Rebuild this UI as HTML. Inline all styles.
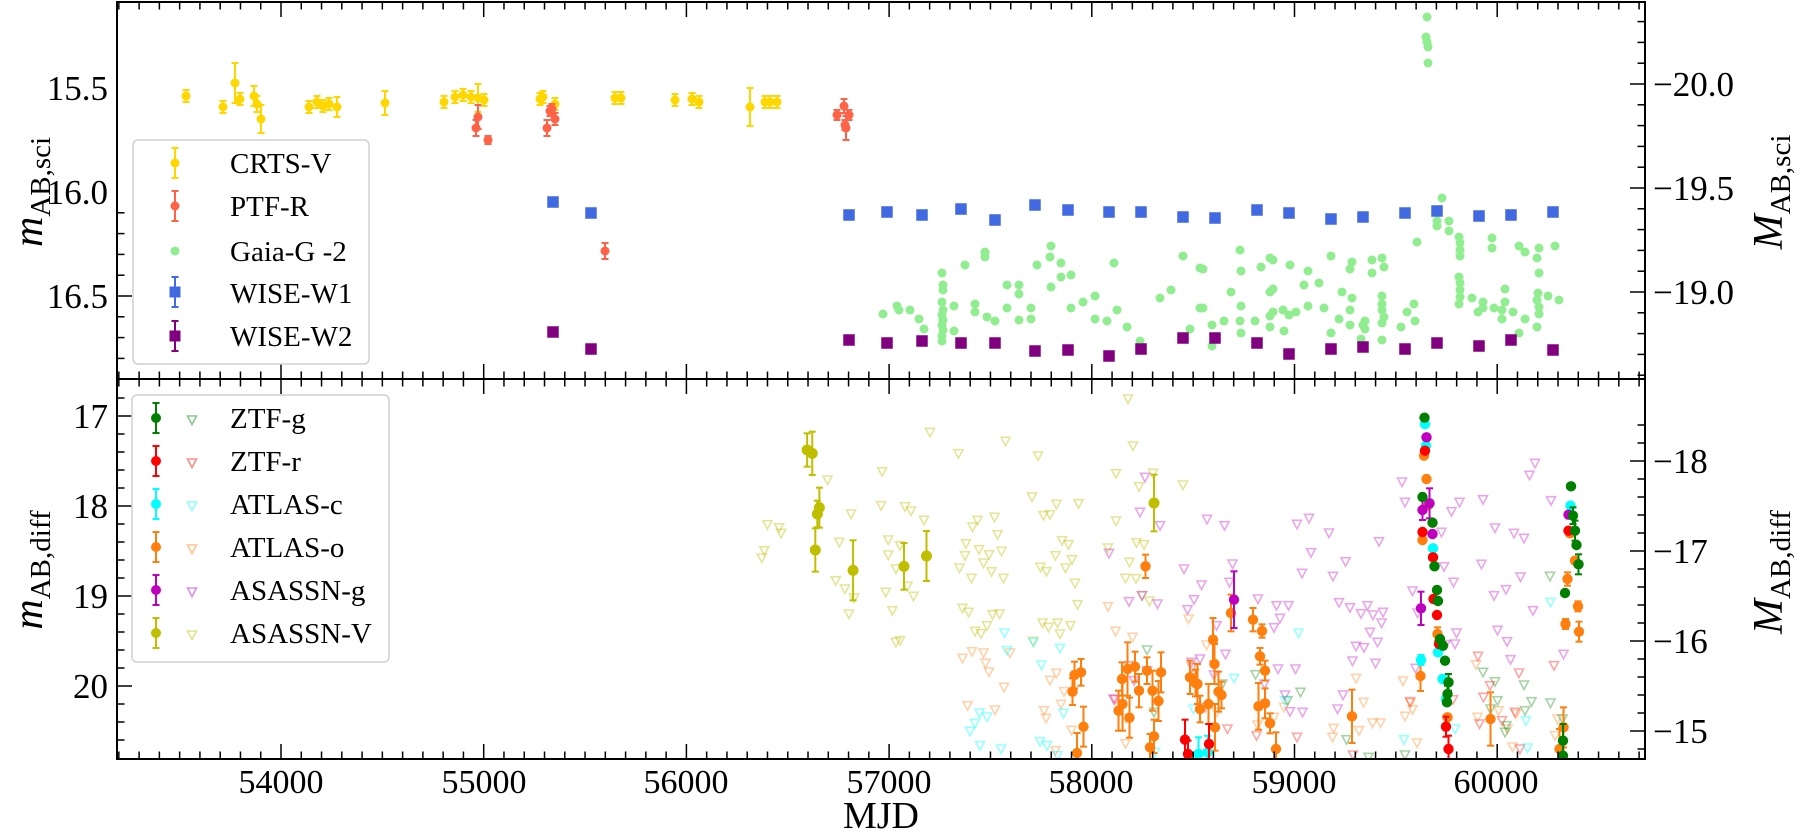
<!DOCTYPE html>
<html><head><meta charset="utf-8">
<style>
html,body{margin:0;padding:0;background:#fff;}
svg{display:block;}
text{font-family:"Liberation Serif",serif;fill:#000;}
</style></head>
<body>
<svg id="s" width="1800" height="833" viewBox="0 0 1800 833" xmlns="http://www.w3.org/2000/svg">
<defs>
<clipPath id="ct"><rect x="117" y="2" width="1528" height="377"/></clipPath>
<clipPath id="cb"><rect x="117" y="379" width="1528" height="380"/></clipPath>
</defs>
<rect width="1800" height="833" fill="#fff"/>
<g id="bd" clip-path="url(#cb)"></g>
<g id="td" clip-path="url(#ct)"></g>
<g id="ax" stroke="#000" fill="none"></g>
<rect x="117" y="2" width="1528" height="377" fill="none" stroke="#000" stroke-width="2"/>
<rect x="117" y="379" width="1528" height="380" fill="none" stroke="#000" stroke-width="2"/>

<!-- legend top -->
<rect x="133" y="140" width="236" height="224" rx="5" fill="#fff" fill-opacity="0.85" stroke="#d0d0d0" stroke-width="1.5"/>
<g id="lg"></g>
<g font-size="29">
<text x="230" y="173">CRTS-V</text>
<text x="230" y="216">PTF-R</text>
<text x="230" y="261">Gaia-G -2</text>
<text x="230" y="303">WISE-W1</text>
<text x="230" y="346">WISE-W2</text>
</g>
<!-- legend bottom -->
<rect x="132" y="395" width="257" height="267" rx="5" fill="#fff" fill-opacity="0.85" stroke="#d0d0d0" stroke-width="1.5"/>
<g id="lg2"></g>
<g font-size="29">
<text x="230" y="428">ZTF-g</text>
<text x="230" y="471">ZTF-r</text>
<text x="230" y="514">ATLAS-c</text>
<text x="230" y="557">ATLAS-o</text>
<text x="230" y="600">ASASSN-g</text>
<text x="230" y="643">ASASSN-V</text>
</g>

<!-- tick labels -->
<g font-size="35" text-anchor="end">
<text x="108" y="100">15.5</text>
<text x="108" y="204">16.0</text>
<text x="108" y="308">16.5</text>
<text x="108" y="428">17</text>
<text x="108" y="518">18</text>
<text x="108" y="608">19</text>
<text x="108" y="698">20</text>
</g>
<g font-size="35" text-anchor="start">
<text x="1653" y="96">−20.0</text>
<text x="1653" y="200">−19.5</text>
<text x="1653" y="304">−19.0</text>
<text x="1653" y="473">−18</text>
<text x="1653" y="563">−17</text>
<text x="1653" y="653">−16</text>
<text x="1653" y="743">−15</text>
</g>
<g font-size="34" text-anchor="middle">
<text x="281" y="793">54000</text>
<text x="484" y="793">55000</text>
<text x="686" y="793">56000</text>
<text x="889" y="793">57000</text>
<text x="1091" y="793">58000</text>
<text x="1294" y="793">59000</text>
<text x="1496" y="793">60000</text>
</g>
<text x="881" y="828" font-size="38" text-anchor="middle">MJD</text>

<text transform="translate(42,192) rotate(-90)" text-anchor="middle" font-size="42"><tspan font-style="italic">m</tspan><tspan font-size="29" dy="8">AB,sci</tspan></text>
<text transform="translate(42,570) rotate(-90)" text-anchor="middle" font-size="42"><tspan font-style="italic">m</tspan><tspan font-size="29" dy="8">AB,diff</tspan></text>
<text transform="translate(1782,192) rotate(-90)" text-anchor="middle" font-size="42"><tspan font-style="italic">M</tspan><tspan font-size="29" dy="8">AB,sci</tspan></text>
<text transform="translate(1782,572) rotate(-90)" text-anchor="middle" font-size="42"><tspan font-style="italic">M</tspan><tspan font-size="29" dy="8">AB,diff</tspan></text>
</svg>
<script>
(function(){
var NS="http://www.w3.org/2000/svg";
function el(p,t,a){var e=document.createElementNS(NS,t);for(var k in a)e.setAttribute(k,a[k]);p.appendChild(e);return e;}
var ax=document.getElementById('ax'),td=document.getElementById('td'),bd=document.getElementById('bd'),lg=document.getElementById('lg'),lg2=document.getElementById('lg2');
function X(m){return 281+(m-54000)*0.2027;}
function line(g,x1,y1,x2,y2,w,c,o){var a={x1:x1,y1:y1,x2:x2,y2:y2,stroke:c||'#000','stroke-width':w||1.5};if(o)a['stroke-opacity']=o;el(g,'line',a);}
for(var m=53200;m<=60700;m+=100){var x=X(m);var maj=(m%1000==0);var L=maj?15:7.5;
 [2,379].forEach(function(y){line(ax,x,y,x,y+L,1.5);});
 [379,759].forEach(function(y){line(ax,x,y,x,y-L,1.5);});}
function Yt(v){return 88+(v-15.5)*208;}
for(var i=11;i<=19;i++){var v=15+i/10;var y=Yt(v);var maj=(i%5==0);line(ax,117,y,117+(maj?15:7.5),y,1.5);}
for(var i=0;i<=20;i++){var M=-20.4+i*0.1;var y=84+(M+20)*208;if(y<4||y>377)continue;var maj=Math.abs(M*2-Math.round(M*2))<1e-6;line(ax,1645,y,1645-(maj?15:7.5),y,1.5);}
function Yb(v){return 416+(v-17)*90;}
for(var v=16.6;v<=20.81;v+=0.2){var y=Yb(v);if(y<381||y>757)continue;var maj=Math.abs(v-Math.round(v))<1e-6;line(ax,117,y,117+(maj?15:7.5),y,1.5);}
for(var v=16.6;v<=20.81;v+=0.2){var y=Yb(v+0.5);if(y<381||y>757)continue;var maj=Math.abs(v-Math.round(v))<1e-6;line(ax,1645,y,1645-(maj?15:7.5),y,1.5);}

function circ(g,x,y,r,c,err,o){ if(err){line(g,x,y-err,x,y+err,2,c,o);line(g,x-3.5,y-err,x+3.5,y-err,2,c,o);line(g,x-3.5,y+err,x+3.5,y+err,2,c,o);}
 var a={cx:x,cy:y,r:r,fill:c};if(o)a['fill-opacity']=o;el(g,'circle',a);}
function sq(g,x,y,s,c,err){ if(err){line(g,x,y-err,x,y+err,2,c);line(g,x-3.5,y-err,x+3.5,y-err,2,c);line(g,x-3.5,y+err,x+3.5,y+err,2,c);}
 el(g,'rect',{x:x-s/2,y:y-s/2,width:s,height:s,fill:c});}
function tri(g,x,y,c,o){el(g,'path',{d:'M'+(x-4.5)+','+(y-4)+'L'+(x+4.5)+','+(y-4)+'L'+x+','+(y+4.5)+'Z',fill:'none',stroke:c,'stroke-width':1.6,'stroke-opacity':o||0.35});}

var gaia=[[883,314],[897,306],[899,310],[910,310],[919,319],[924,329],[942,273],[943,285],[943,290],[942,302],[943,310],[942,315],[943,320],[942,325],[943,330],[942,336],[942,341],[954,306],[954,331],[965,265],[985,252],[985,257],[975,304],[975,312],[987,317],[995,321],[1007,285],[1007,308],[1019,285],[1019,294],[1019,320],[1031,308],[1031,319],[1037,265],[1051,246],[1050,257],[1051,287],[1061,263],[1061,277],[1071,275],[1071,308],[1083,302],[1095,296],[1095,319],[1107,321],[1114,263],[1117,310],[1127,327],[1140,341],[1160,298],[1171,290],[1183,256],[1190,329],[1200,268],[1200,308],
[1427,17],[1426,37],[1427,42],[1428,47],[1428,63],
[1203,269],[1203,308],[1212,325],[1212,346],[1224,321],[1231,292],[1240,250],[1241,271],[1241,306],[1240,321],[1241,333],[1255,321],[1261,267],[1270,258],[1273,260],[1270,292],[1273,289],[1270,316],[1273,312],[1270,327],[1284,331],[1283,310],[1289,315],[1296,312],[1290,265],[1304,285],[1308,271],[1308,306],[1319,283],[1324,308],[1331,256],[1331,333],[1339,319],[1342,292],[1350,269],[1352,262],[1352,298],[1350,310],[1350,325],[1361,339],[1363,325],[1365,321],[1365,329],[1372,260],[1372,273],[1382,258],[1384,267],[1382,296],[1382,304],[1382,310],[1384,317],[1382,323],[1382,340],[1401,327],[1407,312],[1414,304],[1415,321],[1417,242],[1437,221],[1437,226],[1442,198],[1449,221],[1449,231],[1459,237],[1460,243],[1460,250],[1460,256],[1459,277],[1460,283],[1460,290],[1460,297],[1459,304],[1472,298],[1483,302],[1478,312],[1483,308],[1492,238],[1492,248],[1494,308],[1502,310],[1502,319],[1505,289],[1505,302],[1513,312],[1519,246],[1525,252],[1525,319],[1519,333],[1537,258],[1539,248],[1539,273],[1538,293],[1537,300],[1539,307],[1539,314],[1537,327],[1548,296],[1555,246],[1559,300]];
gaia.forEach(function(p){circ(td,p[0],p[1],4.5,'#90EE90');});
var crts=[[186,96,6],[223,107,6],[235,83,20],[240,99,6],[254,96,10],[257,104,8],[261,119,14],[309,107,6],[317,102,6],[323,106,6],[329,104,6],[337,107,10],[385,103,12],[444,102,6],[455,97,6],[463,95,6],[471,97,6],[478,98,14],[484,100,6],[540,99,6],[543,97,6],[555,104,6],[615,98,6],[621,98,6],[675,100,6],[692,99,6],[699,102,6],[750,107,19],[765,102,6],[770,102,6],[777,102,6]];
crts.forEach(function(p){circ(td,p[0],p[1],4.5,'#FFD700',p[2]);});
var ptf=[[476,128,8],[478,117,12],[488,140,4],[547,128,8],[552,109,5],[555,119,6],[550,111,5],[605,251,8],[844,106,7],[837,115,5],[849,115,5],[846,128,12],[845,125,5]];
ptf.forEach(function(p){circ(td,p[0],p[1],4.5,'#FF6347',p[2]);});
var w1=[[553,202],[591,213],[849,215],[887,212],[922,215],[961,209],[995,220],[1035,205],[1068,210],[1109,212],[1141,212],[1183,217],[1215,218],[1257,210],[1289,213],[1331,219],[1363,217],[1405,213],[1437,211],[1479,216],[1511,215],[1553,212]];
w1.forEach(function(p){sq(td,p[0],p[1],11.5,'#4169E1');});
var w2=[[553,332],[591,349],[849,340],[887,343],[922,341],[961,343],[995,343],[1035,351],[1068,350],[1109,356],[1141,349],[1183,338],[1215,338],[1257,343],[1289,354],[1331,349],[1363,347],[1405,349],[1437,343],[1479,346],[1511,340],[1553,350]];
w2.forEach(function(p){sq(td,p[0],p[1],11.5,'#800080',4);});

function z5(a){return a.map(function(p){return [900+p[0]/2,379+p[1]/3,p[2]?p[2]/3:0];});}
function z6(a){return a.map(function(p){return [100+p[0]/1.96,379+p[1]/3,p[2]?p[2]/3:0];});}
var C={g:'#008000',r:'#FF0000',c:'#00FFFF',o:'#FF7F0E',ag:'#BF00BF',av:'#BFBF00'};
var tv=z6([[1308,437],[1297,537],[1302,515],[1331,446],[1335,463],[1426,303],[1449,490],[1442,605],[1460,630],[1478,657],[1468,705],[1472,405],[1533,278],[1531,380],[1540,640],[1545,483],[1553,695],[1560,790],[1545,528],[1560,570],[1568,500]]).concat(z5([[60,160],[117,224],[211,187],[276,231],[264,354],[313,376],[357,374],[432,284],[466,201],[456,60],[478,323],[506,283],[566,318],[10,383],[22,396],[48,424],[155,424],[145,444],[189,415],[132,494],[158,512],[178,527],[203,517],[195,467],[130,530],[119,567],[143,598],[167,552],[183,578],[207,598],[15,622],[27,652],[125,688],[137,700],[185,707],[199,705],[174,740],[150,757],[162,764],[287,410],[300,407],[324,485],[337,497],[311,530],[281,565],[293,578],[331,567],[344,542],[350,613],[355,677],[285,732],[297,745],[315,732],[341,740],[320,765],[416,507],[432,426],[459,550],[451,598],[473,491],[488,497],[484,650],[499,666],[472,599],[266,787],[0,785]]));
tv.forEach(function(p){tri(bd,p[0],p[1],C.av,0.4);});
z5([[490,295],[480,400],[520,440],[418,523],[568,570],[603,618],[588,662],[575,692],[649,440],[614,421],[665,555],[659,610],[716,660],[753,680],[777,680],[760,718],[748,746],[794,436],[818,418],[822,521],[804,583],[891,548],[866,592],[858,462],[958,488],[878,671],[900,686],[922,704],[935,680],[946,708],[966,700],[963,732],[940,760],[955,790],[912,802],[928,806],[905,846],[951,853],[1004,309],[1010,370],[1025,636],[1035,702],[1031,868],[1083,460],[1088,563],[1107,610],[1103,398],[1119,370],[1166,362],[1163,556],[1190,447],[1228,463],[1248,478],[1241,594],[1212,632],[1188,650],[1195,754],[1214,788],[1221,842],[1259,289],[1270,253],[1302,365],[1266,695],[1327,826],[1091,797],[1113,762],[1110,795],[886,948],[875,990],[780,998],[805,1000],[770,948],[729,915],[756,870],[791,870],[633,740],[651,826],[628,888],[494,875],[468,905],[427,960],[458,668],[484,650],[515,675],[600,840],[583,850]]).forEach(function(p){tri(bd,p[0],p[1],C.ag,0.35);});
z5([[125,838],[144,818],[167,822],[171,853],[178,879],[208,925],[220,822],[135,980],[190,993],[288,995],[292,1018],[300,904],[313,883],[328,938],[322,976],[343,1054],[311,1115],[416,683],[431,757],[452,1018],[451,1094],[465,775],[577,720],[613,798],[633,1000],[715,1038],[748,1015],[768,985],[865,1075],[867,1048],[912,898],[927,970],[918,1055],[945,1032],[961,1032],[1006,906],[1021,972],[1025,992],[1010,1012],[1034,1092],[1152,857],[1155,1015],[1197,995],[1232,1005],[1215,1050],[1225,1104],[1315,1020],[1310,1070]]).forEach(function(p){tri(bd,p[0],p[1],C.o,0.35);});
z5([[430,962],[460,860],[584,865],[610,985],[655,1050],[713,1070],[794,1075],[1106,962],[1156,832],[1167,955],[1180,920],[1159,1035],[1204,1025],[1238,882],[1240,1110],[1308,860],[1230,1000],[906,1128],[1020,968]]).forEach(function(p){tri(bd,p[0],p[1],C.r,0.35);});
z5([[494,813],[711,887],[801,940],[893,1082],[937,1135],[1166,880],[1190,908],[1195,965],[1181,990],[1213,1040],[1250,995],[1263,968],[1248,918],[1300,592],[1301,972],[1325,1020],[1210,1060],[508,1000],[645,915],[775,965],[1010,1128]]).forEach(function(p){tri(bd,p[0],p[1],C.g,0.35);});
z5([[209,762],[214,815],[283,858],[267,790],[320,808],[159,1002],[174,1014],[150,1033],[140,1057],[160,1100],[202,1110],[280,1088],[294,1100],[327,1003],[668,898],[770,965],[797,762],[1008,1082],[1110,1050],[1301,670],[1252,1025],[1255,1107],[510,1120],[315,1130],[587,990]]).forEach(function(p){tri(bd,p[0],p[1],C.c,0.4);});
z5([[1048,230],[1053,300],[1057,378],[1045,483],[1041,891,45],[491,562,35],[662,702,55],[706,722,35],[724,756,20],[720,832,25],[730,875,30],[717,982,70],[730,973,45],[740,1033,30],[752,1110,50],[626,782,65],[629,855,60],[637,938,60],[600,990,40],[617,975,60],[630,1045,70],[595,915,60],[580,895,50],[591,912,40],[643,948,40],[470,863,45],[455,870,80],[444,900,50],[478,935,50],[505,935,60],[517,966,60],[522,880,60],[494,875,40],[437,995,60],[445,975,80],[459,1016,60],[508,1072,50],[500,1105,40],[349,888,40],[362,880,40],[345,938,40],[367,1043,60],[354,1122,60],[904,1012,80],[1181,1020,80],[1335,600,20],[1356,682,15],[1331,735,15],[1358,758,30],[1350,545,10],[1340,463],[1327,1045,60],[1319,1110,60],[1095,1015],[1075,765,20]]).forEach(function(p){circ(bd,p[0],p[1],5.2,C.o,p[2]);});
z5([[1050,135],[1052,200],[1066,508],[1042,843,15],[1076,820],[1085,900],[1092,960],[1341,380],[597,1125,50],[615,1120,50]]).forEach(function(p){circ(bd,p[0],p[1],5.2,C.c,p[2]);});
z5([[1050,215],[1045,459],[1066,535],[1067,660],[1074,708],[1078,795],[1092,1043,30],[1097,1110,40],[570,1082,60],[576,1125,40],[618,1095,60],[1337,455]]).forEach(function(p){circ(bd,p[0],p[1],5.2,C.r,p[2]);});
z5([[1053,175],[1045,393,30],[1059,373,45],[1065,465],[1042,688,50],[668,662,85],[1337,407]]).forEach(function(p){circ(bd,p[0],p[1],5.2,C.ag,p[2]);});
z5([[1049,116],[1045,354],[1065,431],[1069,562],[1074,633],[1076,666],[1080,780],[1086,800],[1090,845],[1097,910,25],[1095,945,25],[1094,970],[1342,322],[1346,410,25],[1350,455,30],[1353,498],[1357,556,30],[1330,642],[1326,1085,50],[1326,1130]]).forEach(function(p){circ(bd,p[0],p[1],5.2,C.g,p[2]);});
z6([[1386,213,50],[1396,223,65],[1406,405,40],[1410,386,60],[1402,513,65],[1476,574,90]]).concat(z5([[8,562,70],[53,531,75],[508,372,85]])).forEach(function(p){circ(bd,p[0],p[1],5.5,C.av,p[2]);});

var ly=[163,206,251,292,336],lc=['#FFD700','#FF6347','#90EE90','#4169E1','#800080'];
circ(lg,175,ly[0],4.5,lc[0],15);circ(lg,175,ly[1],4.5,lc[1],15);circ(lg,175,ly[2],4.5,lc[2]);
sq(lg,175,ly[3],11,lc[3],15);sq(lg,175,ly[4],11,lc[4],15);
var by=[418,461,504,547,590,633],bc=[C.g,C.r,C.c,C.o,C.ag,C.av];
for(var i=0;i<6;i++){circ(lg2,156,by[i],5,bc[i],15);tri(lg2,192,by[i]+2,bc[i],0.45);}
})();
</script>
</body></html>
